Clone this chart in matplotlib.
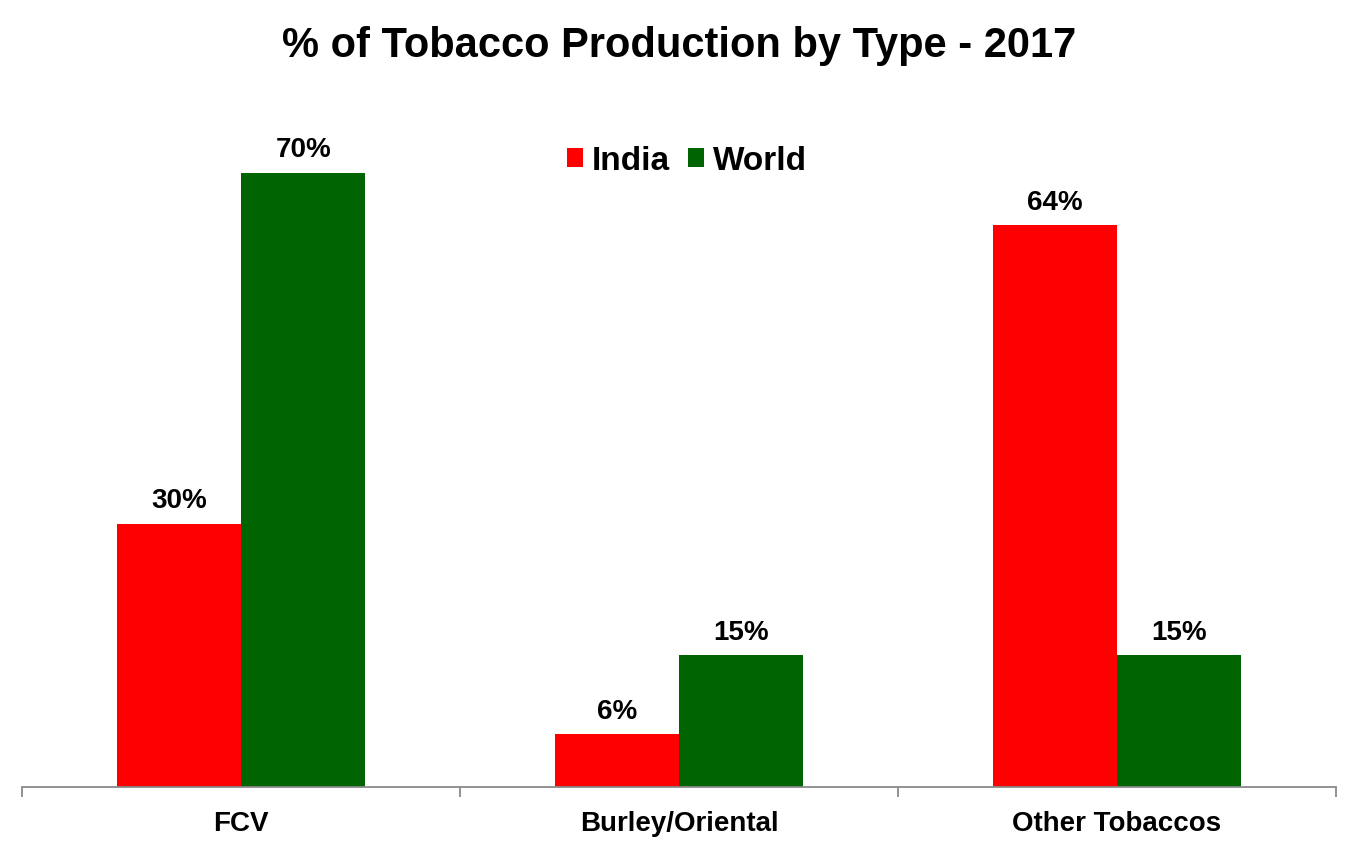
import matplotlib
matplotlib.use("Agg")
import matplotlib.pyplot as plt
import numpy as np

categories = ["FCV", "Burley/Oriental", "Other Tobaccos"]
india = [30, 6, 64]
world = [70, 15, 15]
series_names = ["India", "World"]
colors = ["#FF0000", "#006400"]

plt.rcParams['font.family'] = ['Liberation Sans', 'DejaVu Sans']
plt.rcParams['font.weight'] = 'bold'

W, H = 1358, 851
fig = plt.figure(figsize=(W/100, H/100), dpi=100)
ax = fig.add_axes([22/W, 64/H, 1314/W, 702/H])

x = np.arange(len(categories))
w = 0.284
b1 = ax.bar(x - w/2, india, w, color=colors[0], label=series_names[0])
b2 = ax.bar(x + w/2, world, w, color=colors[1], label=series_names[1])

for bars, vals in ((b1, india), (b2, world)):
    for r, v in zip(bars, vals):
        ax.annotate(f"{v}%", (r.get_x() + r.get_width()/2, v), xytext=(0, 7),
                    textcoords="offset points", ha="center", va="bottom",
                    fontsize=20, fontweight="bold")

ax.set_xlim(-0.5, 2.5)
ax.set_ylim(0, 80)
ax.set_yticks([])
for s in ("left", "right", "top"):
    ax.spines[s].set_visible(False)
ax.spines["bottom"].set_color("#898989")
ax.spines["bottom"].set_linewidth(1.3)
ax.set_xticks(x)
ax.set_xticklabels(categories, fontsize=20, fontweight="bold")
ax.tick_params(axis="x", which="major", length=0, pad=17)
ax.set_xticks([-0.5, 0.5, 1.5, 2.5], minor=True)
ax.tick_params(axis="x", which="minor", length=7, color="#898989", width=1.3)

leg = fig.legend(handles=[b1, b2], labels=series_names, loc="center",
                 bbox_to_anchor=(687/W, 1 - 161/H), ncol=2, frameon=False,
                 handlelength=0.48, handleheight=0.48, handletextpad=0.27,
                 columnspacing=0.54, borderpad=0, prop={'weight': 'bold', 'size': 24})

fig.text(0.5, 1 - 46/H, "% of Tobacco Production by Type - 2017", fontsize=30,
         fontweight="bold", ha="center", va="center")

fig.savefig("out.png", dpi=100)
